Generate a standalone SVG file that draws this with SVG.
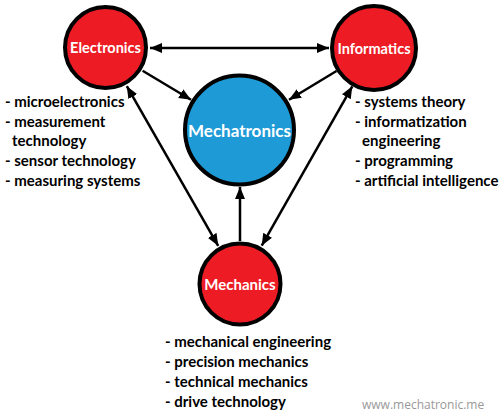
<svg xmlns="http://www.w3.org/2000/svg" width="500" height="414" viewBox="0 0 500 414">
<style>
.node{stroke:#000;stroke-width:4}
.red{fill:#ED1C24}
.blue{fill:#1E9AD6}
.lbl{font-family:Lato,"Liberation Sans",sans-serif;font-weight:bold;fill:#fff;text-anchor:middle;dominant-baseline:central}
.lst{font-family:Lato,"Liberation Sans",sans-serif;font-weight:bold;font-size:15px;fill:#000}
.conn line{stroke:#000;stroke-width:2.5;marker-end:url(#ah)}
.conn line.both{marker-start:url(#ah)}
.wm{font-family:"Open Sans","Liberation Sans",sans-serif;font-size:12px;fill:#999}
</style>
<defs>
<marker id="ah" viewBox="0 0 12 10" refX="12" refY="5" markerWidth="12" markerHeight="10" markerUnits="userSpaceOnUse" orient="auto-start-reverse">
<path d="M0,0 L12,5 L0,10 Z" fill="#000"/>
</marker>
</defs>
<rect width="500" height="414" fill="#fff"/>
<g id="connectors" class="conn">
<line class="both" x1="150" y1="48" x2="329" y2="48"/>
<line x1="142.6" y1="70.8" x2="191" y2="99.8"/>
<line x1="336.5" y1="71" x2="289" y2="99.8"/>
<line x1="240" y1="241" x2="240" y2="187"/>
<line class="both" x1="126.8" y1="86.2" x2="218.2" y2="245.8"/>
<line class="both" x1="352.3" y1="86.3" x2="261.7" y2="245.7"/>
</g>
<g id="electronics">
<circle class="node red" cx="105.5" cy="47.5" r="40.5"/>
<text class="lbl" x="105.5" y="47.5" font-size="14.5">Electronics</text>
</g>
<g id="informatics">
<circle class="node red" cx="374" cy="48" r="42"/>
<text class="lbl" x="374" y="48" font-size="14.5">Informatics</text>
</g>
<g id="mechatronics">
<circle class="node blue" cx="239.5" cy="130" r="54.5"/>
<text class="lbl" x="239.5" y="130" font-size="17">Mechatronics</text>
</g>
<g id="mechanics">
<circle class="node red" cx="240" cy="284" r="40.5"/>
<text class="lbl" x="240" y="284" font-size="15">Mechanics</text>
</g>
<g id="electronics-list" class="lst">
<text x="5" y="107">- microelectronics</text>
<text x="5" y="127">- measurement</text>
<text x="12" y="146">technology</text>
<text x="5" y="166">- sensor technology</text>
<text x="5" y="186">- measuring systems</text>
</g>
<g id="informatics-list" class="lst">
<text x="355" y="107">- systems theory</text>
<text x="355" y="127">- informatization</text>
<text x="362" y="146">engineering</text>
<text x="355" y="166">- programming</text>
<text x="355" y="186">- artificial intelligence</text>
</g>
<g id="mechanics-list" class="lst">
<text x="165" y="347">- mechanical engineering</text>
<text x="165" y="367">- precision mechanics</text>
<text x="165" y="387">- technical mechanics</text>
<text x="165" y="407">- drive technology</text>
</g>
<text class="wm" x="362" y="409">www.mechatronic.me</text>
</svg>
